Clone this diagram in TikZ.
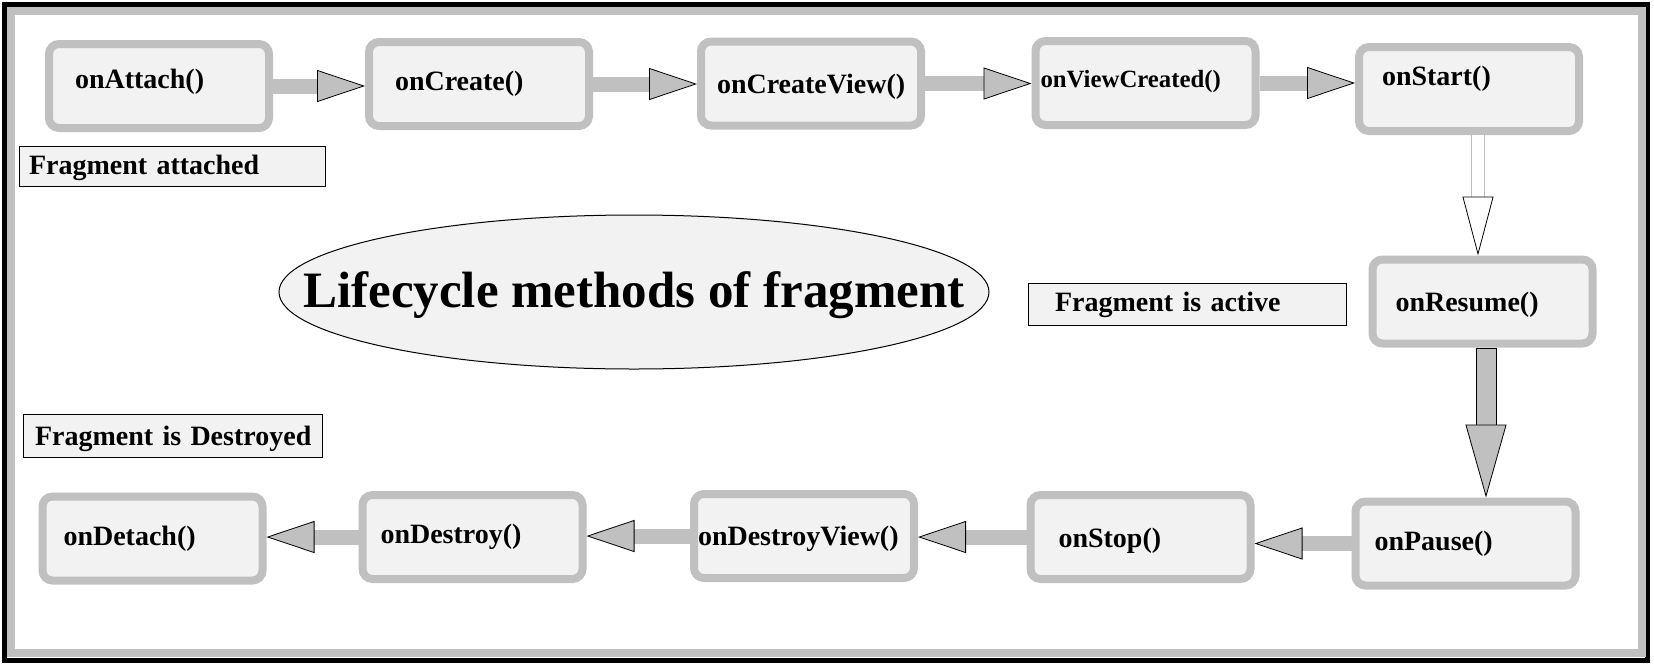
\documentclass[tikz,border=0pt]{standalone}
\usepackage{fontspec}
\setmainfont{Liberation Serif}
\usetikzlibrary{arrows.meta,shapes.geometric}

\definecolor{boxfill}{HTML}{F2F2F2}
\definecolor{boxline}{HTML}{C0C0C0}

\begin{document}
\begin{tikzpicture}[x=0.5pt, y=-0.5pt]
		\tikzset{method/.style={rectangle, rounded corners=5pt, draw=boxline, line width=4pt, fill=boxfill,
				minimum height=42pt, inner xsep=#1, text width=110pt-2*#1, align=left,
				text height=10pt, text depth=4pt, font=\fontsize{14pt}{16pt}\selectfont\bfseries},
			method/.default=13pt}
		\tikzset{phase/.style 2 args={rectangle, draw=black, line width=0.5pt, fill=boxfill,
				inner ysep=0pt, minimum height=21pt, inner xsep=#1, text width=#2-2*#1, align=left,
				text height=10pt, text depth=2.5pt, font=\fontsize{14pt}{16pt}\selectfont\bfseries}}
		\tikzstyle {title} = [ellipse, draw=black, line width=0.5pt, fill=boxfill, inner sep=0pt,
				minimum width=355pt, minimum height=77pt, text height=15pt, text depth=0pt,
				font=\fontsize{25.5pt}{30pt}\selectfont\bfseries]
		\tikzstyle {flow} = [draw=boxline, line width=7.5pt,
				-{Triangle[length=24pt, width=16pt, fill=boxline, color=black, line width=0.4pt]}]

		\useasboundingbox (0,0) rectangle (1654,665);

		% frame
		\draw[line width=2.5pt] (4.5,4.5) rectangle (1647.5,660.5);
		\draw[boxline, line width=4pt] (11,11) rectangle (1641.5,652.5);

		% top row
		\node[method, text depth=8pt] (attach) at (159,86) {onAttach()};
		\node[method] (create) at (479,84) {onCreate()};
		\node[method=8pt, text depth=0.5pt] (createview) at (811,83.5) {onCreateView()};
		\node[method=2.5pt, text depth=6pt, font=\fontsize{12.4pt}{14pt}\selectfont\bfseries] (viewcreated) at (1145.5,83) {onViewCreated()};
		\node[method=11.5pt, text depth=14pt] (start) at (1469,89) {onStart()};

		% right side
		\node[method=11.5pt, text depth=0pt] (resume) at (1482.5,301.5) {onResume()};

		% bottom row
		\node[method=9.5pt, text depth=3pt] (pause) at (1465.5,543.5) {onPause()};
		\node[method=14pt, text depth=0pt] (stop) at (1140.5,537) {onStop()};
		\node[method=2pt, text depth=1pt] (destroyview) at (804,536) {onDestroyView()};
		\node[method=9pt] (destroy) at (472.5,537) {onDestroy()};
		\node[method=10.5pt, text depth=3.5pt] (detach) at (152.5,538.5) {onDetach()};

		% states
		\node[phase={4.75pt}{153pt}, minimum height=20pt, text depth=2pt] (attached) at (172.5,166) {Fragment attached};
		\node[phase={13.25pt}{159pt}, text depth=3pt] (active) at (1187.5,304) {Fragment is active};
		\node[phase={5.75pt}{149.5pt}, minimum height=21.5pt, text depth=0.5pt] (destroyed) at (173,435.5) {\mbox{Fragment is Destroyed}};

		\node[title] (heading) at (634,292) {\makebox[0pt]{Lifecycle methods of fragment}};

		% arrows
		\draw[flow] (attach.east) -- (attach.east -| create.west);
		\draw[flow] (create.east) -- (create.east -| createview.west);
		\draw[flow] (createview.east) -- (createview.east -| viewcreated.west);
		\draw[flow] (viewcreated.east) -- (viewcreated.east -| start.west);

		\coordinate (startout) at ([xshift=4.5pt]start.south);
		\draw[boxline, line width=7pt, shorten >=29.5pt] (startout) -- (startout |- resume.north);
		\draw[white, line width=6pt,
				-{Triangle[length=29.5pt, width=15.5pt, fill=white, color=black, line width=0.4pt]}]
				(startout) -- (startout |- resume.north);

		\coordinate (resumeout) at ([xshift=1.75pt]resume.south);
		\draw[black, line width=10.5pt, shorten >=36.5pt] (resumeout) -- (resumeout |- pause.north);
		\draw[boxline, line width=9.5pt,
				-{Triangle[length=36.5pt, width=20.5pt, fill=boxline, color=black, line width=0.4pt]}]
				([yshift=-0.5pt]resumeout) -- (resumeout |- pause.north);

		\draw[flow] (pause.west) -- (pause.west -| stop.east);
		\draw[flow] (stop.west) -- (stop.west -| destroyview.east);
		\draw[flow] (destroyview.west) -- (destroyview.west -| destroy.east);
		\draw[flow] (destroy.west) -- (destroy.west -| detach.east);
\end{tikzpicture}
\end{document}
